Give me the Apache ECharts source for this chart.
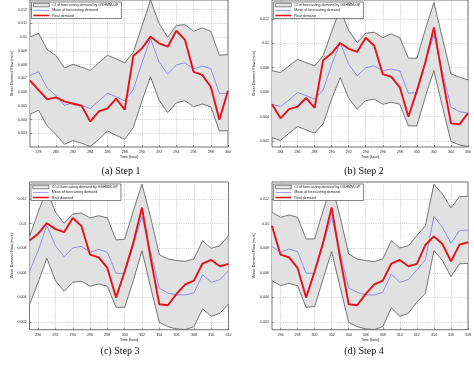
<!DOCTYPE html>
<html><head><meta charset="utf-8">
<script src="https://cdn.jsdelivr.net/npm/echarts@6/dist/echarts.min.js"></script>
<style>html,body{margin:0;padding:0;background:#fff}#c{width:474px;height:368px}</style>
</head><body><div id="c"></div>
<script>
// Real demand, hours 277..318
const realStartHour = 277;
const realDemand = [0.00684,0.00614,0.00547,0.00561,0.00532,0.00515,0.00500,0.00385,0.00460,0.00481,
  0.00552,0.00471,0.00862,0.00918,0.01003,0.00955,0.00930,0.01046,0.00980,0.00747,
  0.00725,0.00639,0.00398,0.00610,0.00845,0.01130,0.00720,0.00344,0.00336,0.00428,
  0.00506,0.00536,0.00675,0.00704,0.00653,0.00672,0.00826,0.00896,0.00834,0.00693,
  0.00829,0.00848];

const hoursA = [277,278,279,280,281,282,283,284,285,286,287,288,289,290,291,292,293,294,295,296,297,298,299,300];
const hoursB = [283,284,285,286,287,288,289,290,291,292,293,294,295,296,297,298,299,300,301,302,303,304,305,306];
const hoursC = [289,290,291,292,293,294,295,296,297,298,299,300,301,302,303,304,305,306,307,308,309,310,311,312];
const hoursD = [295,296,297,298,299,300,301,302,303,304,305,306,307,308,309,310,311,312,313,314,315,316,317,318];

const meanA  = [0.00721,0.00747,0.00629,0.00576,0.00503,0.00522,0.00503,0.00479,0.00535,0.00592,0.00566,0.00535,0.00619,0.00813,0.00989,0.00817,0.00730,0.00798,0.00813,0.00769,0.00789,0.00771,0.00590,0.00590];
const upperA = [0.01001,0.01026,0.00910,0.00866,0.00776,0.00801,0.00781,0.00757,0.00813,0.00868,0.00842,0.00813,0.00890,0.01079,0.01270,0.01098,0.00999,0.01084,0.01091,0.01043,0.01067,0.01043,0.00868,0.00873];
const lowerA = [0.00438,0.00467,0.00353,0.00293,0.00220,0.00247,0.00227,0.00203,0.00256,0.00317,0.00285,0.00256,0.00341,0.00535,0.00711,0.00539,0.00450,0.00522,0.00537,0.00493,0.00513,0.00493,0.00317,0.00319];

const meanB  = [0.00500,0.00481,0.00536,0.00596,0.00572,0.00542,0.00618,0.00823,0.01006,0.00828,0.00733,0.00801,0.00815,0.00774,0.00790,0.00774,0.00591,0.00596,0.00850,0.01069,0.00768,0.00476,0.00440,0.00427];
const upperB = [0.00776,0.00760,0.00815,0.00869,0.00842,0.00815,0.00897,0.01096,0.01280,0.01104,0.01006,0.01083,0.01091,0.01047,0.01077,0.01047,0.00878,0.00878,0.01115,0.01334,0.01042,0.00749,0.00722,0.00700];
const lowerB = [0.00227,0.00203,0.00263,0.00317,0.00290,0.00263,0.00340,0.00542,0.00719,0.00550,0.00460,0.00531,0.00542,0.00500,0.00517,0.00500,0.00323,0.00323,0.00563,0.00776,0.00481,0.00195,0.00167,0.00154];

const meanC  = [0.00612,0.00780,0.00983,0.00820,0.00731,0.00802,0.00815,0.00766,0.00791,0.00766,0.00596,0.00596,0.00820,0.01059,0.00766,0.00474,0.00436,0.00420,0.00420,0.00436,0.00585,0.00522,0.00544,0.00617];
const upperC = [0.00894,0.01092,0.01280,0.01092,0.01002,0.01078,0.01086,0.01046,0.01064,0.01046,0.00867,0.00872,0.01105,0.01320,0.01051,0.00747,0.00712,0.00699,0.00693,0.00712,0.00861,0.00799,0.00820,0.00902];
const lowerC = [0.00341,0.00522,0.00718,0.00536,0.00449,0.00522,0.00531,0.00490,0.00509,0.00490,0.00319,0.00319,0.00536,0.00780,0.00482,0.00197,0.00162,0.00143,0.00138,0.00162,0.00306,0.00246,0.00270,0.00346];

const meanD  = [0.00815,0.00766,0.00793,0.00772,0.00596,0.00596,0.00834,0.01051,0.00758,0.00476,0.00441,0.00420,0.00420,0.00441,0.00590,0.00522,0.00544,0.00623,0.00704,0.01059,0.00970,0.00840,0.00943,0.00948];
const upperD = [0.01092,0.01051,0.01070,0.01051,0.00875,0.00875,0.01105,0.01320,0.01051,0.00753,0.00712,0.00699,0.00691,0.00712,0.00861,0.00802,0.00820,0.00902,0.00983,0.01320,0.01240,0.01127,0.01219,0.01222];
const lowerD = [0.00536,0.00495,0.00514,0.00495,0.00319,0.00325,0.00550,0.00772,0.00482,0.00197,0.00162,0.00143,0.00138,0.00162,0.00314,0.00246,0.00270,0.00360,0.00433,0.00780,0.00699,0.00569,0.00672,0.00677];

const yTicksA = [0.003,0.004,0.005,0.006,0.007,0.008,0.009,0.010,0.011,0.012];
const yTicksBCD = [0.002,0.004,0.006,0.008,0.010,0.012];
const captions = ['(a) Step 1','(b) Step 2','(c) Step 3','(d) Step 4'];
const nameCI = 'CI of forecasting demand by GSHMM-GP';
const nameMean = 'Mean of forecasting demand';
const nameReal = 'Real demand';

const panels = [
  {hours:hoursA, mean:meanA, upper:upperA, lower:lowerA, yMin:0.002, yMax:0.0127, yTicks:yTicksA,
   grid:{left:30, top:0, width:198, height:147}, cap:[121,171]},
  {hours:hoursB, mean:meanB, upper:upperB, lower:lowerB, yMin:0.0015, yMax:0.01355, yTicks:yTicksBCD,
   grid:{left:272, top:0, width:198, height:147}, cap:[364,171]},
  {hours:hoursC, mean:meanC, upper:upperC, lower:lowerC, yMin:0.00137, yMax:0.01338, yTicks:yTicksBCD,
   grid:{left:29.5, top:182, width:199, height:147.7}, cap:[120,351]},
  {hours:hoursD, mean:meanD, upper:upperD, lower:lowerD, yMin:0.00137, yMax:0.01338, yTicks:yTicksBCD,
   grid:{left:272, top:182, width:198, height:147.7}, cap:[364,351]}
];

const FONT = 'Liberation Sans';
const evenHour = (i, v) => Number(v) % 2 === 0;
const grids = [], xAxes = [], yAxes = [], series = [], legends = [], graphics = [];
const RED = '#e3121b', BLUE = '#7a7aee', BORDER = '#555', FILL = '#e1e1e1';
const SPLIT = {color:'#9a9a9a', width:0.5, type:[1,1.2]};

panels.forEach((p, k) => {
  grids.push(Object.assign({show:true, borderColor:'#333', borderWidth:0.7, backgroundColor:'#fff', containLabel:false}, p.grid));
  xAxes.push({
    type:'category', gridIndex:k, data:p.hours.map(String), boundaryGap:false,
    name:'Time [hour]', nameLocation:'middle', nameGap:8,
    nameTextStyle:{fontSize:3.6, fontFamily:FONT, color:'#222'},
    axisLine:{show:false},
    axisTick:{show:true, inside:true, length:2, interval:evenHour, lineStyle:{color:'#333', width:0.5}},
    axisLabel:{fontSize:3.6, fontFamily:FONT, color:'#222', margin:3, interval:evenHour},
    splitLine:{show:true, interval:evenHour, lineStyle:SPLIT}
  });
  yAxes.push({
    type:'value', gridIndex:k, min:p.yMin, max:p.yMax,
    name:'Water Demand Flow [m³/s]', nameLocation:'middle', nameGap:15, nameRotate:90,
    nameTextStyle:{fontSize:3.8, fontFamily:FONT, color:'#222'},
    axisLine:{show:false},
    axisTick:{show:true, inside:true, length:2, customValues:p.yTicks, lineStyle:{color:'#333', width:0.5}},
    axisLabel:{fontSize:3.6, fontFamily:FONT, color:'#222', margin:3, customValues:p.yTicks,
      formatter: v => String(+Number(v).toFixed(4))},
    splitLine:{show:true, lineStyle:SPLIT}
  });
  const off = p.hours[0] - realStartHour;
  const real = realDemand.slice(off, off + p.hours.length);
  const stackId = 'ci' + k;
  series.push({type:'line', name:'_base'+k, xAxisIndex:k, yAxisIndex:k, stack:stackId, data:p.lower,
    symbol:'none', lineStyle:{opacity:0}, silent:true, z:1});
  series.push({type:'line', name:nameCI, xAxisIndex:k, yAxisIndex:k, stack:stackId,
    data:p.upper.map((u,i)=>u - p.lower[i]), symbol:'none', lineStyle:{opacity:0},
    itemStyle:{color:FILL}, areaStyle:{color:FILL, opacity:1}, z:1});
  series.push({type:'line', name:'_up'+k, xAxisIndex:k, yAxisIndex:k, data:p.upper, symbol:'none',
    lineStyle:{color:BORDER, width:0.8}, z:2});
  series.push({type:'line', name:'_lo'+k, xAxisIndex:k, yAxisIndex:k, data:p.lower, symbol:'none',
    lineStyle:{color:BORDER, width:0.8}, z:2});
  series.push({type:'line', name:nameMean, xAxisIndex:k, yAxisIndex:k, data:p.mean, symbol:'none',
    itemStyle:{color:BLUE}, lineStyle:{color:BLUE, width:0.8}, z:3});
  series.push({type:'line', name:nameReal, xAxisIndex:k, yAxisIndex:k, data:real, symbol:'none',
    itemStyle:{color:RED}, lineStyle:{color:RED, width:1.9}, z:4});
  legends.push({
    orient:'vertical', left:p.grid.left + 1.5, top:p.grid.top + 2,
    itemWidth:16, itemHeight:3.5, itemGap:1.2, padding:[1,3,1,1.5],
    backgroundColor:'#fff', borderColor:'#333', borderWidth:0.6,
    textStyle:{fontSize:3.6, fontFamily:FONT, color:'#222', padding:[0,0,0,-2]},
    selectedMode:false, z:10,
    data:[
      {name:nameCI, icon:'rect', itemStyle:{color:'#e6e6e6', borderColor:'#333', borderWidth:0.6}},
      {name:nameMean, icon:'path://M0,9H40V11H0Z', itemStyle:{color:BLUE}},
      {name:nameReal, icon:'path://M0,8H40V12H0Z', itemStyle:{color:RED}}
    ]
  });
  graphics.push({type:'text', x:p.cap[0], y:p.cap[1], z:20,
    style:{text:captions[k], fill:'#111', font:'10px "Liberation Serif"', textAlign:'center', textVerticalAlign:'middle'}});
});

const chart = echarts.init(document.getElementById('c'), null, {renderer:'canvas'});
chart.setOption({
  animation:false, backgroundColor:'#fff',
  grid:grids, xAxis:xAxes, yAxis:yAxes, series:series, legend:legends, graphic:graphics
});
</script></body></html>
